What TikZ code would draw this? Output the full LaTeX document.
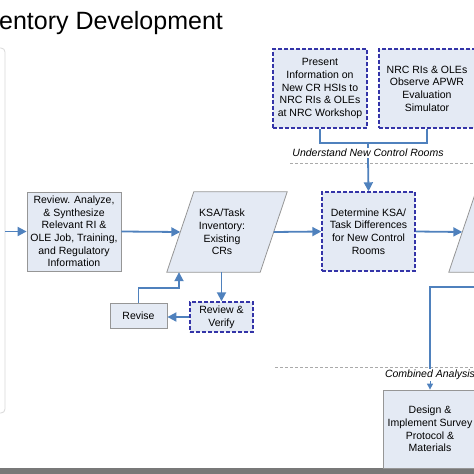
\documentclass[tikz,border=0pt]{standalone}
\usepackage{fontspec}
\setmainfont{Liberation Sans}
\usetikzlibrary{arrows.meta,backgrounds}
\definecolor{boxfill}{RGB}{228,234,244}
\definecolor{boxedge}{RGB}{150,150,150}
\definecolor{navy}{RGB}{52,52,168}
\definecolor{flowblue}{RGB}{79,129,189}
\definecolor{sepgrey}{RGB}{170,170,170}
\definecolor{framegrey}{RGB}{215,215,215}
\definecolor{bargrey}{RGB}{120,120,120}
\begin{document}
\begin{tikzpicture}[x=1pt,y=-1pt,
    every node/.style={font=\fontsize{10.5}{12.6}\selectfont,align=center},
    solidbox/.style={draw=boxedge,fill=boxfill,line width=0.8pt,inner sep=1pt},
    dashbox/.style={draw=navy,fill=boxfill,line width=1.4pt,dash pattern=on 4pt off 2pt,inner sep=1pt},
    slantbody/.style={minimum width=93,minimum height=80,inner sep=0pt},
    slantedge/.style={draw=boxedge,fill=boxfill,line width=0.8pt},
    flow/.style={draw=flowblue,line width=1.8pt,-{Triangle[length=9pt,width=9pt]}},
    thinflow/.style={draw=flowblue,line width=1pt,-{Triangle[length=6pt,width=6pt]}},
    link/.style={draw=flowblue,line width=1.1pt},
    sep/.style={draw=sepgrey,line width=0.8pt,dash pattern=on 3pt off 2pt},
    tag/.style={font=\fontsize{10.5}{12}\selectfont\itshape,inner sep=1pt}]
    \clip (0,0) rectangle (474,474);
    \node[anchor=base west,font=\fontsize{25}{28}\selectfont,inner sep=0pt] (title) at (-1,29) {entory Development};
    \node[draw=framegrey,rounded corners=4pt,line width=0.8pt,minimum width=25,minimum height=365] (frame) at (-7.5,230.5) {};
    \fill[bargrey] (0,468) rectangle (474,474);
    % separators
    \draw[sep] (290,163) -- (474,163);
    \draw[sep] (275,367) -- (474,367);
    % boxes
    \node[solidbox,minimum width=94,minimum height=79] (review) at (74,231.5) {Review. Analyze,\\\& Synthesize\\Relevant RI \&\\OLE Job, Training,\\and Regulatory\\Information};
    \node[slantbody] (ksa) at (227,232) {\hspace*{-10pt}KSA/Task\\\hspace*{-10pt}Inventory:\\\hspace*{-10pt}Existing\\\hspace*{-10pt}CRs};
    \node[dashbox,minimum width=93,minimum height=79] (determine) at (368.5,231.5) {Determine KSA/\\Task Differences\\for New Control\\Rooms};
    \node[slantbody] (ksanew) at (509,232) {};
    \node[solidbox,minimum width=57,minimum height=25] (revise) at (138.5,315.5) {Revise};
    \node[dashbox,minimum width=63,minimum height=30] (verify) at (221.5,317) {Review \&\\Verify};
    \node[dashbox,minimum width=94,minimum height=79] (present) at (320,88.5) {Present\\Information on\\New CR HSIs to\\NRC RIs \& OLEs\\at NRC Workshop};
    \node[dashbox,minimum width=96,minimum height=79] (observe) at (427,88.5) {NRC RIs \& OLEs\\Observe APWR\\Evaluation\\Simulator};
    \node[solidbox,minimum width=94,minimum height=78] (design) at (430,429) {Design \&\\Implement Survey\\Protocol \&\\Materials};
    % slanted outlines behind the inventory nodes
    \begin{scope}[on background layer]
        \foreach \inv in {ksa,ksanew}
            \draw[slantedge] ([xshift=-13.5]\inv.south west) -- ([xshift=13.5]\inv.north west) -- ([xshift=13.5]\inv.north east) -- ([xshift=-13.5]\inv.south east) -- cycle;
    \end{scope}
    % labels
    \node[tag] (understand) at (368,153) {Understand New Control Rooms};
    \node[tag] (combined) at (430,375) {Combined Analysis};
    % connectors
    \draw[flow] (frame.east |- review.west) -- (review.west);
    \draw[flow] (review.east) -- (ksa.west);
    \draw[flow] (ksa.east) -- (determine.west);
    \draw[flow] (determine.east) -- (ksanew.west);
    \draw[flow] (verify.north |- ksa.south) -- (verify.north);
    \draw[flow] (verify.west) -- (revise.east |- verify.west);
    \coordinate (back) at (179,288);
    \draw[flow] (revise.north) |- (back) -- (back |- ksa.south);
    \coordinate (join) at (368,143);
    \draw[link] (present.south) |- (join) -| (observe.south);
    \draw[link] (join) -- (understand.north);
    \draw[flow] (understand.south) -- (determine.north);
    \coordinate (feed) at (480,287);
    \draw[link] (feed) -| (combined.north);
    \draw[thinflow] (combined.south) -- (design.north);
\end{tikzpicture}
\end{document}
